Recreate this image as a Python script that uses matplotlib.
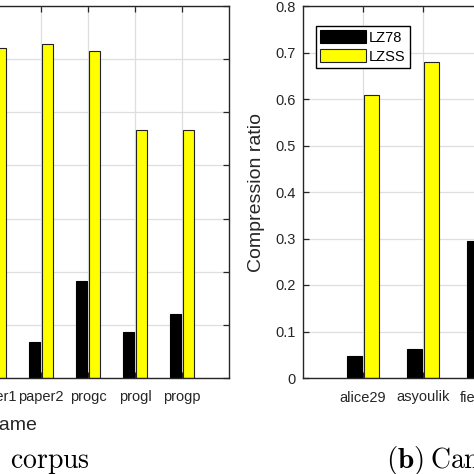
import matplotlib
matplotlib.use("Agg")
import matplotlib.pyplot as plt
import numpy as np

plt.rcParams['font.family'] = ['Liberation Sans', 'DejaVu Sans']
plt.rcParams['mathtext.fontset'] = 'cm'

# (a) Calgary corpus - visible part
calgary_files = ['paper1', 'paper2', 'progc', 'progl', 'progp']
calgary_lz78 = [0.07, 0.068, 0.183, 0.087, 0.120]
calgary_lzss = [0.621, 0.629, 0.615, 0.467, 0.467]

# (b) Canterbury corpus - visible part
canterbury_files = ['alice29', 'asyoulik', 'fields.c']
canterbury_lz78 = [0.047, 0.062, 0.295]
canterbury_lzss = [0.609, 0.680, 0.62]

W = 474
fig = plt.figure(figsize=(4.74, 4.74), dpi=100)

ax1 = fig.add_axes([-241 / W, 96 / W, 470 / W, 372 / W])
ax2 = fig.add_axes([303 / W, 96 / W, 480 / W, 372 / W])

bw = 0.25
off = 0.14
dark = '#262626'


def style(ax, ymax):
    ax.set_axisbelow(True)
    ax.grid(True, color='#dedede', lw=0.9)
    ax.set_ylim(0, ymax)
    ticks = np.round(np.arange(0, ymax + 0.001, 0.1), 1)
    ax.set_yticks(ticks)
    ax.set_yticklabels(['0' if t == 0 else f'{t:.1f}' for t in ticks])
    ax.tick_params(direction='in', length=4, width=0.9, top=True, right=True,
                   labelsize=10.5, colors=dark, labelcolor=dark, pad=5)
    ax.tick_params(axis='x', pad=9)
    for s in ax.spines.values():
        s.set_color(dark)
        s.set_linewidth(1.0)
    ax.set_xlabel('File name', fontsize=14, color=dark, labelpad=9)
    ax.set_ylabel('Compression ratio', fontsize=14, color=dark, labelpad=8)


# left panel: 9 files in the full chart, only the last five visible
x1 = np.arange(5, 5 + len(calgary_files))
ax1.bar(x1 - off, calgary_lz78, bw, color='black', edgecolor='black', lw=0.8)
ax1.bar(x1 + off, calgary_lzss, bw, color='#ffff00', edgecolor='#222222', lw=0.8)
ax1.set_xlim(0, 10)
ax1.set_xticks(x1)
ax1.set_xticklabels(calgary_files)
style(ax1, 0.7)

x2 = np.arange(1, 1 + len(canterbury_files))
ax2.bar(x2 - off, canterbury_lz78, bw, color='black', edgecolor='black', lw=0.8, label='LZ78')
ax2.bar(x2 + off, canterbury_lzss, bw, color='#ffff00', edgecolor='#222222', lw=0.8, label='LZSS')
ax2.set_xlim(0, 8)
ax2.set_xticks(x2)
ax2.set_xticklabels(canterbury_files)
style(ax2, 0.8)

leg = ax2.legend(loc='upper left', bbox_to_anchor=(316 / W, 1 - 26 / W),
                 bbox_transform=fig.transFigure, fontsize=10.5, fancybox=False,
                 edgecolor='black', framealpha=1, handlelength=3.1, handleheight=1.0,
                 handletextpad=0.25, labelspacing=0.3, borderpad=0.3, borderaxespad=0)
leg.get_frame().set_linewidth(1.0)

# captions under the panels
base = 1 - 468 / W
fig.text(90 / W, base, r'$\mathrm{corpus}$', fontsize=20, ha='right', va='baseline')
fig.text(-4 / W, base, r'$\mathbf{(a)}\ \mathrm{Calgary}$', fontsize=20, ha='right', va='baseline')
fig.text(386 / W, base, r'$\mathbf{(b)}$', fontsize=21, ha='left', va='baseline')
fig.text(430 / W, base, r'$\mathrm{Canterbury\ corpus}$', fontsize=20, ha='left', va='baseline')

fig.savefig('out.png', dpi=100)
